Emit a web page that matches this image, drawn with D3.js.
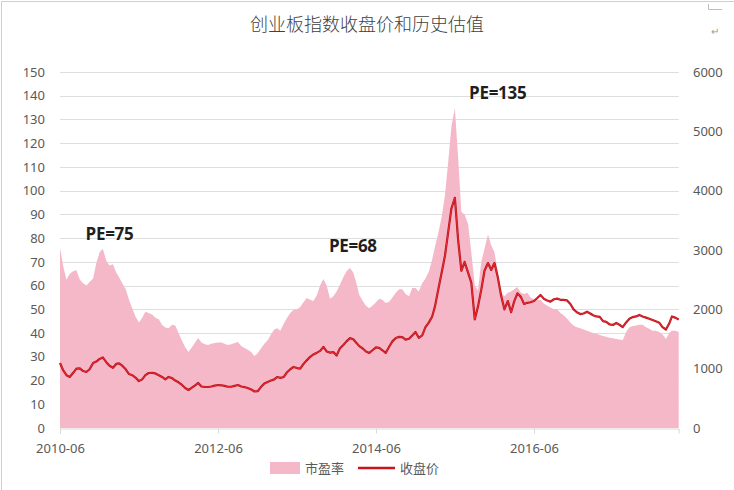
<!DOCTYPE html>
<html>
<head>
<meta charset="utf-8">
<script src="https://cdn.jsdelivr.net/npm/d3@7"></script>
<style>
  body { margin: 0; background: #fff; }
  text { font-family: "Noto Sans", "Noto Sans CJK SC", sans-serif; }
</style>
</head>
<body>
<div id="chart"></div>
<script>
// semi-monthly samples
const dates = [
  "2010-06-01","2010-06-16","2010-07-01","2010-07-16","2010-08-01","2010-08-16","2010-09-01","2010-09-16","2010-10-01","2010-10-16","2010-11-01","2010-11-16","2010-12-01","2010-12-16",
  "2011-01-01","2011-01-16","2011-02-01","2011-02-16","2011-03-01","2011-03-16","2011-04-01","2011-04-16","2011-05-01","2011-05-16","2011-06-01","2011-06-16","2011-07-01","2011-07-16","2011-08-01","2011-08-16","2011-09-01","2011-09-16","2011-10-01","2011-10-16","2011-11-01","2011-11-16","2011-12-01","2011-12-16",
  "2012-01-01","2012-01-16","2012-02-01","2012-02-16","2012-03-01","2012-03-16","2012-04-01","2012-04-16","2012-05-01","2012-05-16","2012-06-01","2012-06-16","2012-07-01","2012-07-16","2012-08-01","2012-08-16","2012-09-01","2012-09-16","2012-10-01","2012-10-16","2012-11-01","2012-11-16","2012-12-01","2012-12-16",
  "2013-01-01","2013-01-16","2013-02-01","2013-02-16","2013-03-01","2013-03-16","2013-04-01","2013-04-16","2013-05-01","2013-05-16","2013-06-01","2013-06-16","2013-07-01","2013-07-16","2013-08-01","2013-08-16","2013-09-01","2013-09-16","2013-10-01","2013-10-16","2013-11-01","2013-11-16","2013-12-01","2013-12-16",
  "2014-01-01","2014-01-16","2014-02-01","2014-02-16","2014-03-01","2014-03-16","2014-04-01","2014-04-16","2014-05-01","2014-05-16","2014-06-01","2014-06-16","2014-07-01","2014-07-16","2014-08-01","2014-08-16","2014-09-01","2014-09-16","2014-10-01","2014-10-16","2014-11-01","2014-11-16","2014-12-01","2014-12-16",
  "2015-01-01","2015-01-16","2015-02-01","2015-02-16","2015-03-01","2015-03-16","2015-04-01","2015-04-16","2015-05-01","2015-05-16","2015-06-01","2015-06-16","2015-07-01","2015-07-16","2015-08-01","2015-08-16","2015-09-01","2015-09-16","2015-10-01","2015-10-16","2015-11-01","2015-11-16","2015-12-01","2015-12-16",
  "2016-01-01","2016-01-16","2016-02-01","2016-02-16","2016-03-01","2016-03-16","2016-04-01","2016-04-16","2016-05-01","2016-05-16","2016-06-01","2016-06-16","2016-07-01","2016-07-16","2016-08-01","2016-08-16","2016-09-01","2016-09-16","2016-10-01","2016-10-16","2016-11-01","2016-11-16","2016-12-01","2016-12-16",
  "2017-01-01","2017-01-16","2017-02-01","2017-02-16","2017-03-01","2017-03-16","2017-04-01","2017-04-16","2017-05-01","2017-05-16","2017-06-01","2017-06-16","2017-07-01","2017-07-16","2017-08-01","2017-08-16","2017-09-01","2017-09-16","2017-10-01","2017-10-16","2017-11-01","2017-11-16","2017-12-01","2017-12-16",
  "2018-01-01","2018-01-16","2018-02-01","2018-02-16","2018-03-01","2018-03-16","2018-04-01"
];

// 市盈率 (left axis)
const peValues = [
  76, 68, 62.5, 65, 66, 66.5, 62.5, 61, 60, 61.5, 63, 69.5, 74, 75.5,
  70.5, 68.5, 69, 65.5, 63.5, 61, 58.5, 54, 50.5, 47, 44.5, 46.5, 49, 48.5, 47.8, 46.5, 45.8, 43.4, 42.3, 42, 43.5, 43.2, 40, 37,
  34, 32, 34, 36, 37.9, 36, 35.3, 35, 35.5, 35.8, 36, 36, 35.5, 35, 35.3, 35.8, 36.2, 34.5, 33.7, 33, 32, 30.3, 31.5, 33.5,
  35.5, 37, 39.5, 41.5, 42, 41, 44, 46.5, 48.5, 49.8, 50, 51, 53, 54.8, 54, 53.5, 56, 60, 62.8, 60, 54.5, 55.5, 57.5, 60.3,
  63.5, 66, 67.4, 65.5, 61.5, 56, 53.5, 51.5, 50.5, 51.5, 53, 54.5, 54, 52.7, 53.2, 55, 57, 58.5, 58.5, 56.5, 55.5, 59, 59, 57.5,
  61, 63, 66, 71, 76.5, 82, 89, 98, 112, 127, 134.8, 114, 91, 90, 86, 74, 60, 58, 70, 75.5, 81.5, 77, 74, 66,
  57, 55.5, 57, 57.5, 58.5, 59.4, 57, 56.5, 57, 55, 54.3, 54, 54, 52.5, 51.5, 50.8, 50, 50, 48.5, 47.5, 46, 44.5, 43.2, 42.4,
  42, 41.5, 41, 40.5, 40, 39.7, 39.2, 38.8, 38.5, 38, 37.8, 37.5, 37.3, 37, 40.5, 42.5, 43, 43.2, 43.5, 43.5, 42.5, 41.8, 41, 41,
  40.5, 39.5, 37.5, 40, 41, 41, 40.5
];

// 收盘价 (right axis)
const closeValues = [
  1096, 970, 890, 860, 930, 1000, 1005, 960, 944, 990, 1096, 1120, 1165, 1190,
  1110, 1050, 1015, 1080, 1090, 1050, 990, 910, 890, 850, 790, 820, 890, 927, 930, 920, 890, 860, 820, 860, 840, 800, 770, 730,
  675, 641, 680, 720, 759, 700, 691, 691, 700, 715, 725, 720, 710, 695, 695, 710, 725, 700, 690, 675, 650, 615, 620, 690,
  750, 776, 800, 820, 860, 845, 860, 940, 990, 1029, 1010, 1000, 1080, 1140, 1200, 1240, 1270, 1300, 1366, 1290, 1270, 1280, 1220, 1340,
  1400, 1460, 1515, 1495, 1440, 1380, 1340, 1290, 1265, 1310, 1360, 1350, 1310, 1265, 1370, 1460, 1518, 1535, 1530, 1490, 1505, 1560, 1619, 1520,
  1560, 1700, 1780, 1880, 2050, 2330, 2620, 2900, 3300, 3700, 3880, 3170, 2650, 2800, 2620, 2450, 1830, 2050, 2330, 2650, 2780, 2664, 2780, 2550,
  2230, 2000, 2140, 1950, 2130, 2270, 2210, 2090, 2110, 2120, 2140, 2190, 2243, 2180, 2150, 2130, 2170, 2180, 2160, 2160, 2150, 2090, 2000, 1950,
  1920, 1930, 1960, 1930, 1900, 1880, 1872, 1800, 1790, 1745, 1737, 1770, 1740, 1700, 1780, 1840, 1870, 1880, 1906, 1880, 1860, 1840, 1820, 1800,
  1775, 1700, 1660, 1760, 1880, 1860, 1830
];

const leftTicks = [0, 10, 20, 30, 40, 50, 60, 70, 80, 90, 100, 110, 120, 130, 140, 150];
const rightTicks = [0, 1000, 2000, 3000, 4000, 5000, 6000];
const xTickLabels = ["2010-06", "2012-06", "2014-06", "2016-06"];
const seriesNames = ["市盈率", "收盘价"];

// annotations: label, date, pe level of baseline
const noteLabels = ["PE=75", "PE=68", "PE=135"];
const noteDates = ["2011-01-16", "2014-02-14", "2015-12-16"];
const notePE = [79.2, 74.2, 138.6];

const title = "创业板指数收盘价和历史估值";

const width = 734, height = 490;
const parse = d3.timeParse("%Y-%m-%d");
const parseMonth = d3.timeParse("%Y-%m");

const data = dates.map((d, i) => ({ date: parse(d), pe: peValues[i], close: closeValues[i] }));

const svg = d3.select("#chart").append("svg")
    .attr("width", width)
    .attr("height", height);

// page border (left and top only, like the screenshot)
svg.append("path")
    .attr("d", `M1.5,${height} V1.5 H${width}`)
    .attr("fill", "none")
    .attr("stroke", "#cfcfcf");

const x = d3.scaleTime()
    .domain([parse("2010-06-01"), parse("2018-04-01")])
    .range([60, 678.7]);
const yL = d3.scaleLinear().domain([0, 150]).range([428, 72]);
const yR = d3.scaleLinear().domain([0, 6000]).range([428, 72]);

// title
svg.append("text")
    .attr("x", 367)
    .attr("y", 31)
    .attr("text-anchor", "middle")
    .style("font-family", "'Noto Sans CJK SC'")
    .style("font-size", "18px")
    .style("font-weight", 300)
    .style("fill", "#404040")
    .text(title);

// word-processor marks top right
svg.append("path")
    .attr("d", "M708.5,4 V9.5 H722")
    .attr("fill", "none")
    .attr("stroke", "#bdbdbd");
svg.append("text")
    .attr("x", 711)
    .attr("y", 35)
    .style("font-size", "10px")
    .style("fill", "#9a9a9a")
    .text("↵");

// grid
svg.append("g").selectAll("line")
    .data(leftTicks.filter(t => t > 0))
    .join("line")
    .attr("x1", x.range()[0])
    .attr("x2", x.range()[1])
    .attr("y1", d => Math.round(yL(d)) + 0.5)
    .attr("y2", d => Math.round(yL(d)) + 0.5)
    .attr("stroke", "#dedede");

// PE area
const area = d3.area()
    .x(d => x(d.date))
    .y0(yL(0))
    .y1(d => yL(d.pe));

svg.append("path")
    .datum(data)
    .attr("d", area)
    .attr("fill", "#f5b8c9");

// close line
const line = d3.line()
    .x(d => x(d.date))
    .y(d => yR(d.close));

svg.append("path")
    .datum(data)
    .attr("d", line)
    .attr("fill", "none")
    .attr("stroke", "#b8141d")
    .attr("stroke-width", 2.2)
    .attr("stroke-linejoin", "round");
svg.append("path")
    .datum(data)
    .attr("d", line)
    .attr("fill", "none")
    .attr("stroke", "#ea2a30")
    .attr("stroke-width", 1)
    .attr("stroke-linejoin", "round");

// axes
const axisLeft = svg.append("g")
    .attr("transform", "translate(60,0)")
    .call(d3.axisLeft(yL).tickValues(leftTicks).tickSize(0).tickPadding(15));
const axisRight = svg.append("g")
    .attr("transform", "translate(679,0)")
    .call(d3.axisRight(yR).tickValues(rightTicks).tickFormat(d3.format("d")).tickSize(0).tickPadding(14));
const axisBottom = svg.append("g")
    .attr("transform", "translate(0,428.5)")
    .call(d3.axisBottom(x)
        .tickValues(xTickLabels.map(parseMonth))
        .tickFormat(d3.timeFormat("%Y-%m"))
        .tickSize(5)
        .tickPadding(10));

[axisLeft, axisRight, axisBottom].forEach(g => {
    g.select(".domain").attr("stroke", "#d9d9d9");
    g.selectAll(".tick line").attr("stroke", "#d9d9d9");
    g.selectAll("text")
        .style("font-family", "'Noto Sans'")
        .style("font-size", "13px")
        .style("fill", "#595959");
});
axisLeft.select(".domain").remove();
axisRight.select(".domain").remove();

// annotations
svg.append("g").selectAll("text")
    .data(noteLabels)
    .join("text")
    .attr("x", (d, i) => x(parse(noteDates[i])))
    .attr("y", (d, i) => yL(notePE[i]))
    .attr("text-anchor", "middle")
    .style("font-family", "'Open Sans'")
    .style("font-size", "17px")
    .style("font-weight", 700)
    .style("letter-spacing", "-0.3px")
    .style("fill", "#1f1f1f")
    .text(d => d);

// legend
const legend = svg.append("g").attr("transform", "translate(270,468)");
legend.append("rect")
    .attr("x", 0).attr("y", -6)
    .attr("width", 30).attr("height", 12)
    .attr("fill", "#f5b8c9");
legend.append("text")
    .attr("x", 35).attr("y", 5)
    .style("font-family", "'Noto Sans CJK SC'")
    .style("font-size", "13px")
    .style("fill", "#595959")
    .text(seriesNames[0]);
legend.append("line")
    .attr("x1", 88).attr("x2", 125)
    .attr("y1", 0).attr("y2", 0)
    .attr("stroke", "#c8141c")
    .attr("stroke-width", 2.5);
legend.append("text")
    .attr("x", 130).attr("y", 5)
    .style("font-family", "'Noto Sans CJK SC'")
    .style("font-size", "13px")
    .style("fill", "#595959")
    .text(seriesNames[1]);
</script>
</body>
</html>
